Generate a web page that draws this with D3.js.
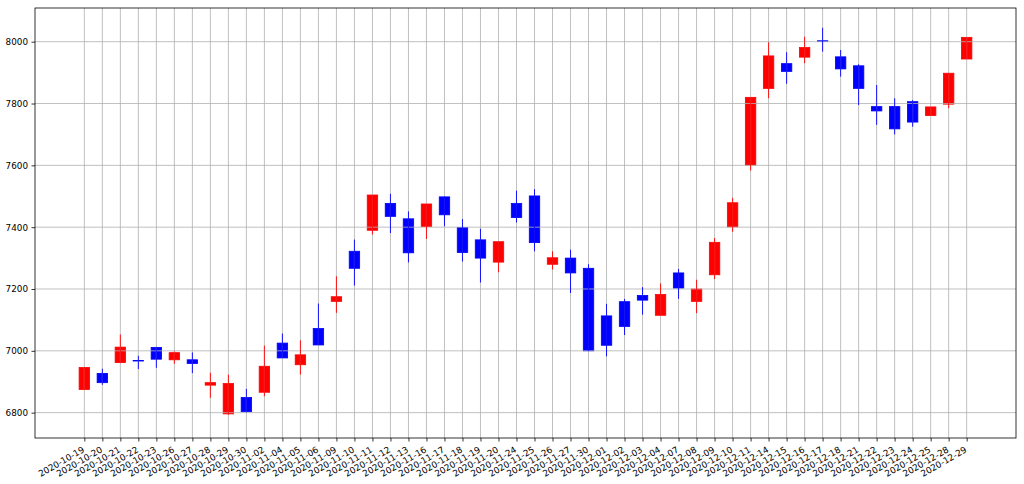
<!DOCTYPE html>
<html>
<head>
<meta charset="utf-8">
<script src="https://cdn.jsdelivr.net/npm/d3@7"></script>
<style>
  html, body { margin: 0; padding: 0; background: #ffffff; }
  svg { display: block; }
  text { font-family: "DejaVu Sans", sans-serif; fill: #000; }
</style>
</head>
<body>
<svg id="chart" width="1024" height="484"></svg>
<script>
const dates = ["2020-10-19","2020-10-20","2020-10-21","2020-10-22","2020-10-23","2020-10-26","2020-10-27","2020-10-28","2020-10-29","2020-10-30",
  "2020-11-02","2020-11-04","2020-11-05","2020-11-06","2020-11-09","2020-11-10","2020-11-11","2020-11-12","2020-11-13","2020-11-16",
  "2020-11-17","2020-11-18","2020-11-19","2020-11-20","2020-11-24","2020-11-25","2020-11-26","2020-11-27","2020-11-30","2020-12-01",
  "2020-12-02","2020-12-03","2020-12-04","2020-12-07","2020-12-08","2020-12-09","2020-12-10","2020-12-11","2020-12-14","2020-12-15",
  "2020-12-16","2020-12-17","2020-12-18","2020-12-21","2020-12-22","2020-12-23","2020-12-24","2020-12-25","2020-12-28","2020-12-29"];

const opens  = [6875,6927,6962,6969,7011,6971,6971,6889,6796,6849,
                6866,7025,6955,7072,7160,7322,7390,7477,7427,7402,
                7498,7399,7359,7287,7477,7501,7280,7300,7267,7113,
                7159,7179,7115,7252,7160,7246,7401,7601,7849,7929,
                7950,8003,7951,7922,7790,7790,7806,7761,7798,7944];
const highs  = [6948,6942,7053,6984,7013,6998,6995,6929,6923,6877,
                7017,7056,7034,7153,7241,7360,7505,7508,7451,7476,
                7500,7426,7395,7354,7518,7523,7322,7327,7280,7152,
                7168,7206,7218,7265,7230,7365,7495,7821,7998,7966,
                8016,8045,7973,7927,7860,7817,7811,7790,7899,8015];
const lows   = [6873,6890,6960,6941,6945,6958,6928,6848,6793,6801,
                6853,6976,6923,7018,7123,7211,7376,7381,7286,7362,
                7403,7289,7221,7254,7415,7322,7263,7187,6999,6982,
                7051,7117,7113,7168,7122,7232,7385,7583,7817,7864,
                7930,7968,7887,7795,7731,7700,7725,7760,7785,7943];
const closes = [6946,6897,7012,6967,6973,6994,6959,6897,6894,6803,
                6950,6977,6987,7019,7175,7267,7504,7435,7317,7475,
                7440,7318,7300,7353,7431,7350,7301,7252,7000,7018,
                7079,7164,7182,7203,7200,7351,7479,7820,7954,7904,
                7981,8001,7912,7849,7776,7718,7740,7789,7898,8014];
const yTicks = [6800, 7000, 7200, 7400, 7600, 7800, 8000];

const upColor = "#ff0000", downColor = "#0000ff";
const plot = {left: 35, right: 1016, top: 8, bottom: 438};
const bodyWidth = 0.58;

const svg = d3.select("#chart");
const x = d3.scaleLinear().domain([-2.74, 51.74]).range([plot.left, plot.right]);
const y = d3.scaleLinear().domain([6718, 8109]).range([plot.bottom, plot.top]);

const data = dates.map((d, i) => ({date: d, i, o: opens[i], h: highs[i], l: lows[i], c: closes[i]}));
const col = d => d.c >= d.o ? upColor : downColor;

// bodies (below grid)
svg.append("g").selectAll("rect").data(data).join("rect")
  .attr("x", d => x(d.i - bodyWidth / 2))
  .attr("width", d => x(d.i + bodyWidth / 2) - x(d.i - bodyWidth / 2))
  .attr("y", d => y(Math.max(d.o, d.c)))
  .attr("height", d => Math.max(0.01, y(Math.min(d.o, d.c)) - y(Math.max(d.o, d.c))))
  .attr("fill", col)
  .attr("stroke", col)
  .attr("stroke-width", 0.8);

// grid
const grid = svg.append("g").attr("stroke", "#b0b0b0").attr("stroke-width", 0.8);
grid.selectAll("line.gx").data(data).join("line").attr("class", "gx")
  .attr("x1", d => x(d.i)).attr("x2", d => x(d.i))
  .attr("y1", plot.top).attr("y2", plot.bottom);
grid.selectAll("line.gy").data(yTicks).join("line").attr("class", "gy")
  .attr("x1", plot.left).attr("x2", plot.right)
  .attr("y1", d => y(d)).attr("y2", d => y(d));

// wicks (above grid)
svg.append("g").selectAll("line").data(data).join("line")
  .attr("x1", d => x(d.i)).attr("x2", d => x(d.i))
  .attr("y1", d => y(d.h)).attr("y2", d => y(d.l))
  .attr("stroke", col)
  .attr("stroke-width", 0.9);

// y axis
const yAxis = d3.axisLeft(y).tickValues(yTicks).tickSize(3.5).tickPadding(3.5).tickFormat(d3.format("d"));
const ya = svg.append("g").attr("transform", `translate(${plot.left},0)`).call(yAxis);
ya.select(".domain").remove();
ya.selectAll("line").attr("stroke", "#000").attr("stroke-width", 0.8);
ya.selectAll("text").attr("font-size", "8.8px").attr("font-family", "DejaVu Sans, sans-serif").attr("fill", "#000");

// x axis
const xAxis = d3.axisBottom(x).tickValues(data.map(d => d.i)).tickSize(3.5).tickFormat(i => dates[i]);
const xa = svg.append("g").attr("transform", `translate(0,${plot.bottom})`).call(xAxis);
xa.select(".domain").remove();
xa.selectAll("line").attr("stroke", "#000").attr("stroke-width", 0.8);
xa.selectAll("text")
  .attr("font-size", "8.8px")
  .attr("font-family", "DejaVu Sans, sans-serif")
  .attr("fill", "#000")
  .attr("text-anchor", "end")
  .attr("y", 0).attr("dy", "0.72em")
  .attr("transform", "translate(-3,8) rotate(-30)");

// frame
svg.append("rect")
  .attr("x", plot.left).attr("y", plot.top)
  .attr("width", plot.right - plot.left).attr("height", plot.bottom - plot.top)
  .attr("fill", "none").attr("stroke", "#000").attr("stroke-width", 0.8);
</script>
</body>
</html>
